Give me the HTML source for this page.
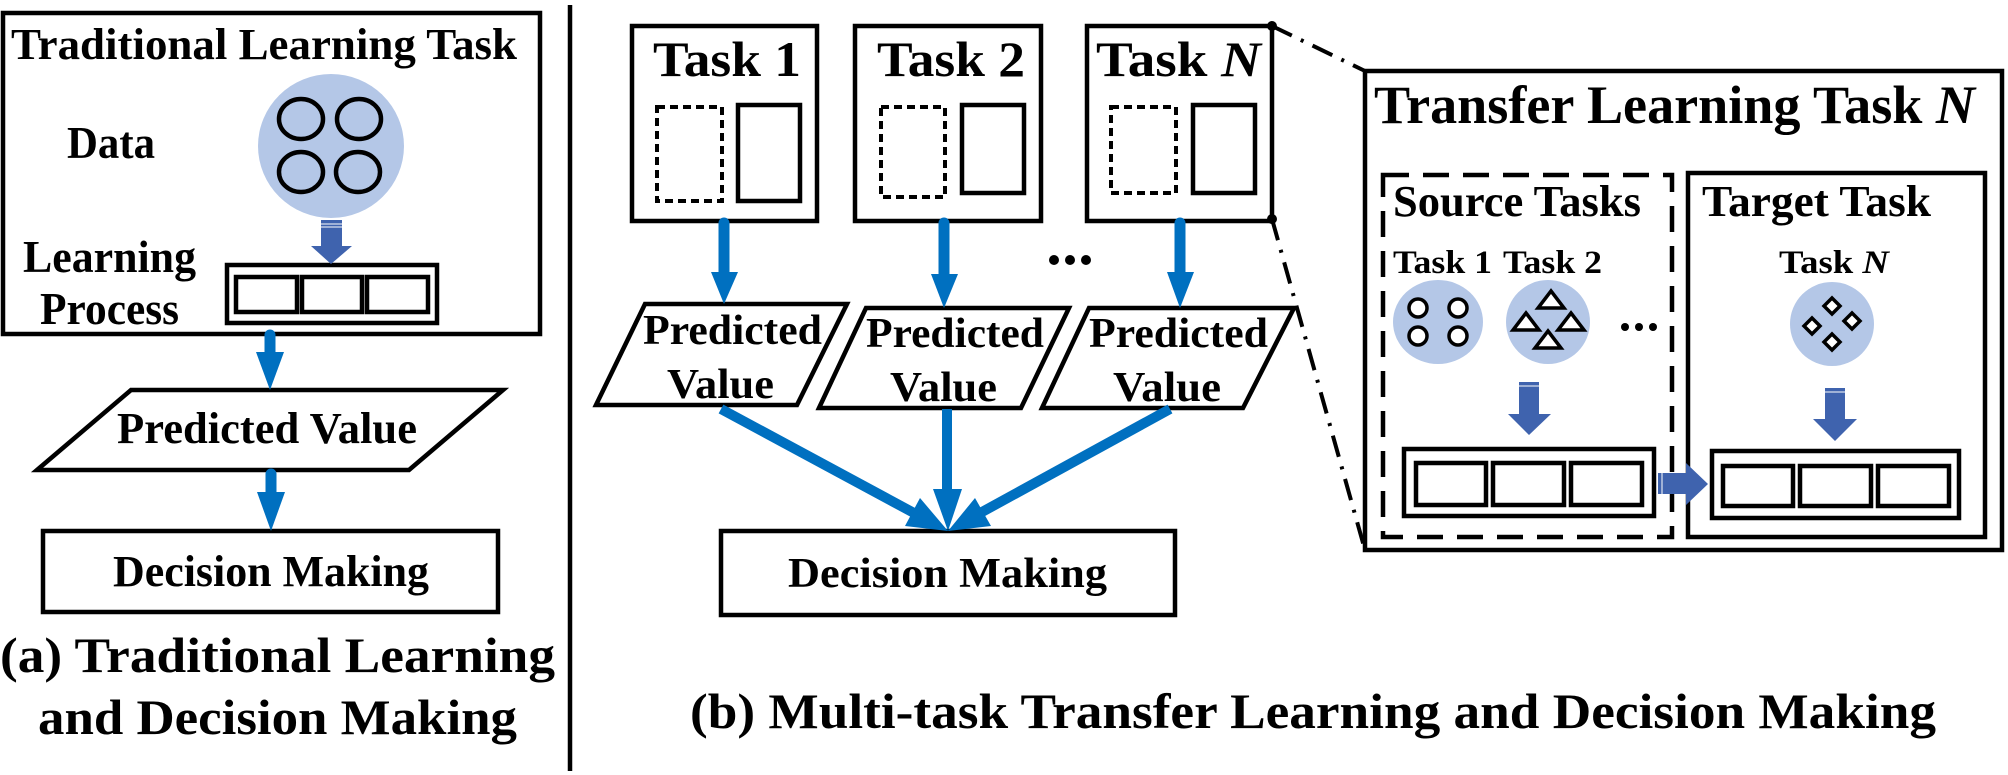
<!DOCTYPE html>
<html><head><meta charset="utf-8"><style>html,body{margin:0;padding:0;background:#fff}svg{display:block}text{font-family:"Liberation Serif",serif;font-weight:bold;fill:#000}</style></head>
<body>
<svg width="2008" height="775" viewBox="0 0 2008 775" xmlns="http://www.w3.org/2000/svg">
<g stroke="#000" stroke-width="4.5" fill="none">
<!-- left -->
<rect x="3" y="13" width="537" height="321"/>
<rect x="227" y="265" width="210" height="58"/>
<rect x="236" y="277" width="61" height="35"/><rect x="302" y="277" width="60" height="35"/><rect x="367" y="277" width="61" height="35"/>
<polygon points="37,470 131,390 503,390 409,470"/>
<rect x="43" y="531" width="455" height="81"/>
<line x1="570" y1="5" x2="570" y2="771"/>
<!-- middle -->
<rect x="632" y="26" width="185" height="195"/>
<rect x="855" y="26" width="186" height="195"/>
<rect x="1087" y="26" width="185" height="195"/>
<rect x="738" y="105" width="62" height="96"/>
<rect x="962" y="105" width="62" height="88"/>
<rect x="1193" y="105" width="62" height="88"/>
<g stroke-dasharray="8,5" stroke-width="4"><rect x="657" y="107" width="65" height="94"/><rect x="881" y="107" width="64" height="90"/><rect x="1111" y="107" width="65" height="86"/></g>
<polygon points="596,405 645,304 847,304 797,405"/>
<polygon points="819,408 866,308 1069,308 1021,408"/>
<polygon points="1042,408 1089,308 1294,308 1243,408"/>
<rect x="721" y="531" width="454" height="84"/>
<g stroke-dasharray="22,10,3,10" stroke-width="4"><line x1="1272" y1="26" x2="1365" y2="71"/><line x1="1272" y1="219" x2="1365" y2="550"/></g>
<!-- right -->
<rect x="1365" y="71" width="637" height="479"/>
<rect x="1383" y="175" width="289" height="362" stroke-dasharray="26,14"/>
<rect x="1688" y="173" width="297" height="364"/>
<rect x="1404" y="449" width="250" height="67"/>
<rect x="1416" y="463" width="70" height="42"/><rect x="1493" y="463" width="71" height="42"/><rect x="1571" y="463" width="71" height="42"/>
<rect x="1712" y="451" width="247" height="67"/>
<rect x="1723" y="466" width="70" height="40"/><rect x="1800" y="466" width="71" height="40"/><rect x="1878" y="466" width="71" height="40"/>
</g>
<circle cx="1272" cy="26" r="5"/><circle cx="1272" cy="219" r="5"/>
<!-- ellipses -->
<ellipse cx="331" cy="146" rx="73" ry="72" fill="#b4c7e7"/>
<g fill="none" stroke="#000" stroke-width="4.5"><ellipse cx="301" cy="119" rx="22" ry="20"/><ellipse cx="359" cy="119" rx="22" ry="20"/><ellipse cx="301" cy="172" rx="22" ry="20"/><ellipse cx="358" cy="172" rx="22" ry="20"/></g>
<ellipse cx="1438" cy="322" rx="45" ry="42" fill="#b4c7e7"/>
<ellipse cx="1548" cy="322" rx="42" ry="42" fill="#b4c7e7"/>
<ellipse cx="1832" cy="324" rx="42" ry="42" fill="#b4c7e7"/>
<g fill="#fff" stroke="#000" stroke-width="3.5">
<circle cx="1418" cy="308" r="9"/><circle cx="1458" cy="308" r="9"/><circle cx="1418" cy="336" r="9"/><circle cx="1458" cy="336" r="9"/>
<polygon points="1551,291 1564,308 1538,308"/><polygon points="1526,313 1539,330 1513,330"/><polygon points="1571,313 1584,330 1558,330"/><polygon points="1548,331 1561,348 1535,348"/>
<polygon points="1832,298 1840,306 1832,314 1824,306"/><polygon points="1812,318 1820,326 1812,334 1804,326"/><polygon points="1852,313 1860,321 1852,329 1844,321"/><polygon points="1832,334 1840,342 1832,350 1824,342"/>
</g>
<!-- dark blue arrows -->
<g fill="#3f63ae">
<polygon points="321,220 342,220 342,246 352,246 331,264 311,246 321,246"/>
<polygon points="1519,382 1539,382 1539,414 1551,414 1529,435 1508,414 1519,414"/>
<polygon points="1825,388 1845,388 1845,419 1857,419 1835,441 1813,419 1825,419"/>
<polygon points="1658,473 1686,473 1686,463 1708,484 1686,505 1686,494 1658,494"/>
</g>
<g stroke="#fff" stroke-width="1"><line x1="321" y1="224" x2="342" y2="224"/><line x1="321" y1="227" x2="342" y2="227"/><line x1="1519" y1="386" x2="1539" y2="386"/><line x1="1825" y1="392" x2="1845" y2="392"/><line x1="1662" y1="473" x2="1662" y2="494"/></g>
<!-- blue arrows -->
<g stroke="#0070c0" stroke-width="11" stroke-linecap="round" fill="none">
<line x1="270" y1="335" x2="270" y2="356"/><line x1="271" y1="474" x2="271" y2="496"/>
<line x1="724" y1="223" x2="724" y2="276"/><line x1="944" y1="223" x2="944" y2="278"/><line x1="1180" y1="223" x2="1180" y2="276"/>
</g>
<g fill="#0070c0">
<polygon points="256,352 284,352 270,390"/><polygon points="257,492 285,492 271,531"/>
<polygon points="711,272 738,272 724,304"/><polygon points="931,274 958,274 944,308"/><polygon points="1167,272 1194,272 1180,308"/>
</g>
<g stroke="#0070c0" stroke-width="10" fill="none">
<line x1="721" y1="409" x2="914" y2="513"/>
<line x1="947" y1="409" x2="947" y2="493"/>
<line x1="1170" y1="409" x2="982" y2="512"/>
</g>
<g fill="#0070c0">
<polygon points="948,531 905,526 920,498"/>
<polygon points="948,531 933,489 962,489"/>
<polygon points="948,531 975,498 991,526"/>
</g>
<g fill="#000"><circle cx="1054" cy="260" r="5"/><circle cx="1070" cy="260" r="5"/><circle cx="1086" cy="260" r="5"/>
<circle cx="1625" cy="327" r="4"/><circle cx="1639" cy="327" r="4"/><circle cx="1653" cy="327" r="4"/></g>
<!-- texts -->
<g>
<text x="11" y="59" font-size="44" textLength="506" lengthAdjust="spacingAndGlyphs">Traditional Learning Task</text>
<text x="67" y="158" font-size="46" textLength="88" lengthAdjust="spacingAndGlyphs">Data</text>
<text x="23" y="272" font-size="46" textLength="173" lengthAdjust="spacingAndGlyphs">Learning</text>
<text x="40" y="324" font-size="46" textLength="139" lengthAdjust="spacingAndGlyphs">Process</text>
<text x="117" y="443" font-size="44" textLength="300" lengthAdjust="spacingAndGlyphs">Predicted Value</text>
<text x="113" y="586" font-size="44" textLength="316" lengthAdjust="spacingAndGlyphs">Decision Making</text>
<text x="0" y="672" font-size="50" textLength="555" lengthAdjust="spacingAndGlyphs">(a) Traditional Learning</text>
<text x="38" y="734" font-size="50" textLength="479" lengthAdjust="spacingAndGlyphs">and Decision Making</text>
<text x="653" y="76" font-size="50" textLength="148" lengthAdjust="spacingAndGlyphs">Task 1</text>
<text x="877" y="76" font-size="50" textLength="148" lengthAdjust="spacingAndGlyphs">Task 2</text>
<text x="1096" y="76" font-size="50" textLength="165" lengthAdjust="spacingAndGlyphs">Task <tspan font-style="italic">N</tspan></text>
<text x="643" y="344" font-size="42" textLength="179" lengthAdjust="spacingAndGlyphs">Predicted</text>
<text x="667" y="398" font-size="42" textLength="107" lengthAdjust="spacingAndGlyphs">Value</text>
<text x="866" y="347" font-size="42" textLength="178" lengthAdjust="spacingAndGlyphs">Predicted</text>
<text x="890" y="401" font-size="42" textLength="107" lengthAdjust="spacingAndGlyphs">Value</text>
<text x="1089" y="347" font-size="42" textLength="179" lengthAdjust="spacingAndGlyphs">Predicted</text>
<text x="1113" y="401" font-size="42" textLength="108" lengthAdjust="spacingAndGlyphs">Value</text>
<text x="788" y="587" font-size="42" textLength="319" lengthAdjust="spacingAndGlyphs">Decision Making</text>
<text x="690" y="728" font-size="50" textLength="1246" lengthAdjust="spacingAndGlyphs">(b) Multi-task Transfer Learning and Decision Making</text>
<text x="1374" y="123" font-size="54" textLength="601" lengthAdjust="spacingAndGlyphs">Transfer Learning Task <tspan font-style="italic">N</tspan></text>
<text x="1393" y="216" font-size="44" textLength="248" lengthAdjust="spacingAndGlyphs">Source Tasks</text>
<text x="1702" y="216" font-size="44" textLength="229" lengthAdjust="spacingAndGlyphs">Target Task</text>
<text x="1393" y="273" font-size="33" textLength="99" lengthAdjust="spacingAndGlyphs">Task 1</text>
<text x="1503" y="273" font-size="33" textLength="99" lengthAdjust="spacingAndGlyphs">Task 2</text>
<text x="1779" y="273" font-size="33" textLength="110" lengthAdjust="spacingAndGlyphs">Task <tspan font-style="italic">N</tspan></text>
</g>
</svg>
</body></html>
